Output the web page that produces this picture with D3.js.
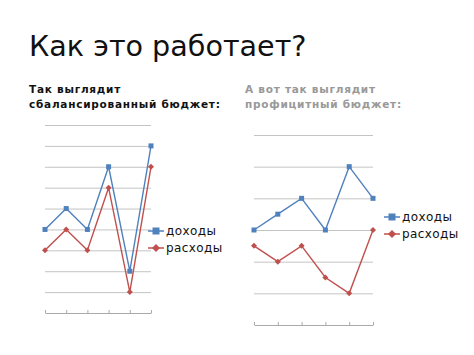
<!DOCTYPE html>
<html>
<head>
<meta charset="utf-8">
<script src="https://cdn.jsdelivr.net/npm/d3@7"></script>
<style>
  body { margin: 0; background: #fff; }
  text { font-family: "DejaVu Sans", sans-serif; }
</style>
</head>
<body>
<svg id="chart" width="474" height="355"></svg>
<script>
const categories = [1, 2, 3, 4, 5, 6];
const seriesNames = ["доходы", "расходы"];

// balanced budget
const balancedIncome = [4, 5, 4, 7, 2, 8];
const balancedExpense = [3, 4, 3, 6, 1, 7];

// surplus budget
const surplusIncome = [3, 3.5, 4, 3, 5, 4];
const surplusExpense = [2.5, 2, 2.5, 1.5, 1, 3];

const COLORS = ["#4f81bd", "#c0504d"];

const svg = d3.select("#chart");

svg.append("text")
  .attr("x", 29)
  .attr("y", 56)
  .style("font-size", "28.6px")
  .attr("fill", "#111")
  .text("Как это работает?");

function subtitle(x, lines, color) {
  const t = svg.append("text")
    .attr("x", x)
    .attr("y", 93)
    .style("font-size", "10.5px")
    .style("font-weight", "bold")
    .style("letter-spacing", "0.75px")
    .attr("fill", color);
  lines.forEach((l, i) => {
    t.append("tspan").attr("x", x).attr("dy", i ? 15 : 0).text(l);
  });
}

subtitle(29, ["Так выглядит", "сбалансированный бюджет:"], "#111");
subtitle(245, ["А вот так выглядит", "профицитный бюджет:"], "#999");

function drawChart({ x0, x1, yTop, yBottom, yMax, income, expense, legendX, legendY }) {
  const x = d3.scalePoint().domain(categories).range([x0, x1]);
  const y = d3.scaleLinear().domain([0, yMax]).range([yBottom, yTop]);

  const g = svg.append("g");

  // gridlines
  g.append("g")
    .attr("transform", `translate(${x0},0)`)
    .call(d3.axisLeft(y).tickValues(d3.range(1, yMax + 1)).tickSize(-(x1 - x0)).tickFormat(""))
    .call((a) => a.select(".domain").remove())
    .call((a) => a.selectAll("line").attr("stroke", "#c4c4c4").attr("stroke-width", 1));

  // x axis
  g.append("g")
    .attr("transform", `translate(0,${yBottom})`)
    .call(d3.axisBottom(x).tickSize(-3).tickSizeOuter(0).tickFormat(""))
    .call((a) => a.select(".domain").attr("stroke", "#aaa"))
    .call((a) => a.selectAll("line").attr("stroke", "#aaa"));

  const line = d3.line().x((d, i) => x(categories[i])).y((d) => y(d));

  [income, expense].forEach((vals, k) => {
    g.append("path")
      .attr("d", line(vals))
      .attr("fill", "none")
      .attr("stroke", COLORS[k])
      .attr("stroke-width", 1.4);
    vals.forEach((v, i) => {
      drawMarker(g, x(categories[i]), y(v), k);
    });
  });

  // legend
  seriesNames.forEach((name, k) => {
    const ly = legendY + k * 17;
    g.append("line")
      .attr("x1", legendX).attr("x2", legendX + 16)
      .attr("y1", ly).attr("y2", ly)
      .attr("stroke", COLORS[k]).attr("stroke-width", 1.5);
    drawMarker(g, legendX + 8, ly, k, true);
    g.append("text")
      .attr("x", legendX + 18)
      .attr("y", ly)
      .attr("dy", "0.35em")
      .style("font-size", "12px")
      .style("letter-spacing", "0.4px")
      .attr("fill", "#111")
      .text(name);
  });
}

function drawMarker(g, cx, cy, k, big) {
  if (k === 0) {
    const s = big ? 7 : 5;
    g.append("rect")
      .attr("x", cx - s / 2).attr("y", cy - s / 2)
      .attr("width", s).attr("height", s)
      .attr("fill", COLORS[0]);
  } else {
    const s = big ? 4 : 3;
    g.append("path")
      .attr("d", `M${cx},${cy - s}L${cx + s},${cy}L${cx},${cy + s}L${cx - s},${cy}Z`)
      .attr("fill", COLORS[1]);
  }
}

drawChart({
  x0: 45, x1: 151, yTop: 125, yBottom: 313, yMax: 9,
  income: balancedIncome, expense: balancedExpense,
  legendX: 148, legendY: 231
});

drawChart({
  x0: 254, x1: 373, yTop: 135, yBottom: 325, yMax: 6,
  income: surplusIncome, expense: surplusExpense,
  legendX: 384, legendY: 217
});
</script>
</body>
</html>
